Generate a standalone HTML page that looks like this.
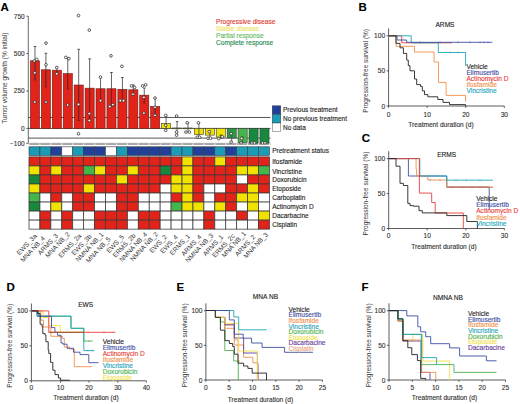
<!DOCTYPE html>
<html><head><meta charset="utf-8"><style>
html,body{margin:0;padding:0;background:#fff;width:520px;height:404px;overflow:hidden}
svg{display:block}
text{font-family:"Liberation Sans", sans-serif}
</style></head><body>
<svg width="520" height="404" viewBox="0 0 520 404">
<text x="0.60" y="10.50" font-size="11.5" fill="#000" stroke="#000" stroke-width="0.12" text-anchor="start" font-weight="bold" >A</text>
<text x="0" y="0" font-size="6.5" fill="#333" text-anchor="middle" transform="translate(7.2,78.1) rotate(-90)">Tumor volume growth (% initial)</text>
<line x1="28.30" y1="16.20" x2="28.30" y2="143.36" stroke="#444" stroke-width="0.8"/>
<line x1="26.30" y1="16.20" x2="28.30" y2="16.20" stroke="#444" stroke-width="0.8"/>
<text x="24.70" y="18.50" font-size="6.5" fill="#333" stroke="#333" stroke-width="0.12" text-anchor="end" font-weight="normal" >750</text>
<line x1="26.30" y1="53.60" x2="28.30" y2="53.60" stroke="#444" stroke-width="0.8"/>
<text x="24.70" y="55.90" font-size="6.5" fill="#333" stroke="#333" stroke-width="0.12" text-anchor="end" font-weight="normal" >500</text>
<line x1="26.30" y1="91.00" x2="28.30" y2="91.00" stroke="#444" stroke-width="0.8"/>
<text x="24.70" y="93.30" font-size="6.5" fill="#333" stroke="#333" stroke-width="0.12" text-anchor="end" font-weight="normal" >250</text>
<line x1="26.30" y1="128.40" x2="28.30" y2="128.40" stroke="#444" stroke-width="0.8"/>
<text x="24.70" y="130.70" font-size="6.5" fill="#333" stroke="#333" stroke-width="0.12" text-anchor="end" font-weight="normal" >0</text>
<line x1="26.30" y1="143.36" x2="28.30" y2="143.36" stroke="#444" stroke-width="0.8"/>
<text x="24.70" y="145.66" font-size="6.5" fill="#333" stroke="#333" stroke-width="0.12" text-anchor="end" font-weight="normal" >−100</text>
<line x1="28.30" y1="117.48" x2="270.50" y2="117.48" stroke="#2a2a2a" stroke-width="0.8"/>
<line x1="28.30" y1="128.40" x2="270.50" y2="128.40" stroke="#2a2a2a" stroke-width="0.8"/>
<line x1="28.30" y1="138.12" x2="270.50" y2="138.12" stroke="#2a2a2a" stroke-width="0.8"/>
<rect x="30.42" y="60.78" width="9.10" height="67.62" fill="#e2231a" stroke="#6a1812" stroke-width="0.6"/>
<rect x="41.34" y="69.76" width="9.10" height="58.64" fill="#e2231a" stroke="#6a1812" stroke-width="0.6"/>
<rect x="52.28" y="70.21" width="9.10" height="58.19" fill="#e2231a" stroke="#6a1812" stroke-width="0.6"/>
<rect x="63.20" y="73.65" width="9.10" height="54.75" fill="#e2231a" stroke="#6a1812" stroke-width="0.6"/>
<rect x="74.14" y="85.02" width="9.10" height="43.38" fill="#e2231a" stroke="#6a1812" stroke-width="0.6"/>
<rect x="85.06" y="88.16" width="9.10" height="40.24" fill="#e2231a" stroke="#6a1812" stroke-width="0.6"/>
<rect x="96.00" y="88.76" width="9.10" height="39.64" fill="#e2231a" stroke="#6a1812" stroke-width="0.6"/>
<rect x="106.92" y="88.76" width="9.10" height="39.64" fill="#e2231a" stroke="#6a1812" stroke-width="0.6"/>
<rect x="117.86" y="89.35" width="9.10" height="39.05" fill="#e2231a" stroke="#6a1812" stroke-width="0.6"/>
<rect x="128.78" y="89.80" width="9.10" height="38.60" fill="#e2231a" stroke="#6a1812" stroke-width="0.6"/>
<rect x="139.71" y="95.19" width="9.10" height="33.21" fill="#e2231a" stroke="#6a1812" stroke-width="0.6"/>
<rect x="150.64" y="106.41" width="9.10" height="21.99" fill="#e2231a" stroke="#6a1812" stroke-width="0.6"/>
<rect x="161.57" y="123.31" width="9.10" height="5.09" fill="#f2e200" stroke="#3a3a3a" stroke-width="0.6"/>
<rect x="172.50" y="128.00" width="9.10" height="0.80" fill="#f2e200" stroke="#3a3a3a" stroke-width="0.6"/>
<rect x="183.43" y="128.00" width="9.10" height="0.80" fill="#f2e200" stroke="#3a3a3a" stroke-width="0.6"/>
<rect x="194.36" y="128.40" width="9.10" height="6.28" fill="#f2e200" stroke="#3a3a3a" stroke-width="0.6"/>
<rect x="205.29" y="128.40" width="9.10" height="6.73" fill="#f2e200" stroke="#3a3a3a" stroke-width="0.6"/>
<rect x="216.22" y="128.40" width="9.10" height="8.68" fill="#f2e200" stroke="#3a3a3a" stroke-width="0.6"/>
<rect x="227.15" y="128.40" width="9.10" height="9.57" fill="#2b9a45" stroke="#3a3a3a" stroke-width="0.6"/>
<rect x="238.08" y="128.40" width="9.10" height="14.21" fill="#45b649" stroke="#3a3a3a" stroke-width="0.6"/>
<rect x="249.01" y="128.40" width="9.10" height="14.96" fill="#16893d" stroke="#3a3a3a" stroke-width="0.6"/>
<rect x="259.94" y="128.40" width="9.10" height="14.96" fill="#16893d" stroke="#3a3a3a" stroke-width="0.6"/>
<line x1="28.30" y1="143.36" x2="270.50" y2="143.36" stroke="#555" stroke-width="0.5"/>
<line x1="34.97" y1="46.50" x2="34.97" y2="80.00" stroke="#4a4a4a" stroke-width="0.85"/>
<line x1="34.97" y1="60.78" x2="34.97" y2="80.00" stroke="#7a1a14" stroke-width="0.85"/>
<line x1="33.67" y1="46.50" x2="36.27" y2="46.50" stroke="#3a3a3a" stroke-width="0.85"/>
<line x1="33.67" y1="80.00" x2="36.27" y2="80.00" stroke="#7a1a14" stroke-width="0.85"/>
<line x1="45.89" y1="53.30" x2="45.89" y2="86.80" stroke="#4a4a4a" stroke-width="0.85"/>
<line x1="45.89" y1="69.76" x2="45.89" y2="86.80" stroke="#7a1a14" stroke-width="0.85"/>
<line x1="44.59" y1="53.30" x2="47.19" y2="53.30" stroke="#3a3a3a" stroke-width="0.85"/>
<line x1="44.59" y1="86.80" x2="47.19" y2="86.80" stroke="#7a1a14" stroke-width="0.85"/>
<line x1="56.83" y1="67.00" x2="56.83" y2="74.00" stroke="#4a4a4a" stroke-width="0.85"/>
<line x1="56.83" y1="70.21" x2="56.83" y2="74.00" stroke="#7a1a14" stroke-width="0.85"/>
<line x1="55.53" y1="67.00" x2="58.12" y2="67.00" stroke="#3a3a3a" stroke-width="0.85"/>
<line x1="55.53" y1="74.00" x2="58.12" y2="74.00" stroke="#7a1a14" stroke-width="0.85"/>
<line x1="67.75" y1="58.00" x2="67.75" y2="89.00" stroke="#4a4a4a" stroke-width="0.85"/>
<line x1="67.75" y1="73.65" x2="67.75" y2="89.00" stroke="#7a1a14" stroke-width="0.85"/>
<line x1="66.45" y1="58.00" x2="69.05" y2="58.00" stroke="#3a3a3a" stroke-width="0.85"/>
<line x1="66.45" y1="89.00" x2="69.05" y2="89.00" stroke="#7a1a14" stroke-width="0.85"/>
<line x1="78.69" y1="49.30" x2="78.69" y2="120.50" stroke="#4a4a4a" stroke-width="0.85"/>
<line x1="78.69" y1="85.02" x2="78.69" y2="120.50" stroke="#7a1a14" stroke-width="0.85"/>
<line x1="77.39" y1="49.30" x2="79.98" y2="49.30" stroke="#3a3a3a" stroke-width="0.85"/>
<line x1="77.39" y1="120.50" x2="79.98" y2="120.50" stroke="#7a1a14" stroke-width="0.85"/>
<line x1="89.61" y1="58.90" x2="89.61" y2="118.00" stroke="#4a4a4a" stroke-width="0.85"/>
<line x1="89.61" y1="88.16" x2="89.61" y2="118.00" stroke="#7a1a14" stroke-width="0.85"/>
<line x1="88.31" y1="58.90" x2="90.91" y2="58.90" stroke="#3a3a3a" stroke-width="0.85"/>
<line x1="88.31" y1="118.00" x2="90.91" y2="118.00" stroke="#7a1a14" stroke-width="0.85"/>
<line x1="100.55" y1="76.60" x2="100.55" y2="101.00" stroke="#4a4a4a" stroke-width="0.85"/>
<line x1="100.55" y1="88.76" x2="100.55" y2="101.00" stroke="#7a1a14" stroke-width="0.85"/>
<line x1="99.25" y1="76.60" x2="101.84" y2="76.60" stroke="#3a3a3a" stroke-width="0.85"/>
<line x1="99.25" y1="101.00" x2="101.84" y2="101.00" stroke="#7a1a14" stroke-width="0.85"/>
<line x1="111.47" y1="72.50" x2="111.47" y2="106.00" stroke="#4a4a4a" stroke-width="0.85"/>
<line x1="111.47" y1="88.76" x2="111.47" y2="106.00" stroke="#7a1a14" stroke-width="0.85"/>
<line x1="110.17" y1="72.50" x2="112.77" y2="72.50" stroke="#3a3a3a" stroke-width="0.85"/>
<line x1="110.17" y1="106.00" x2="112.77" y2="106.00" stroke="#7a1a14" stroke-width="0.85"/>
<line x1="122.41" y1="77.50" x2="122.41" y2="101.00" stroke="#4a4a4a" stroke-width="0.85"/>
<line x1="122.41" y1="89.35" x2="122.41" y2="101.00" stroke="#7a1a14" stroke-width="0.85"/>
<line x1="121.11" y1="77.50" x2="123.70" y2="77.50" stroke="#3a3a3a" stroke-width="0.85"/>
<line x1="121.11" y1="101.00" x2="123.70" y2="101.00" stroke="#7a1a14" stroke-width="0.85"/>
<line x1="133.33" y1="85.00" x2="133.33" y2="95.00" stroke="#4a4a4a" stroke-width="0.85"/>
<line x1="133.33" y1="89.80" x2="133.33" y2="95.00" stroke="#7a1a14" stroke-width="0.85"/>
<line x1="132.03" y1="85.00" x2="134.63" y2="85.00" stroke="#3a3a3a" stroke-width="0.85"/>
<line x1="132.03" y1="95.00" x2="134.63" y2="95.00" stroke="#7a1a14" stroke-width="0.85"/>
<line x1="144.26" y1="88.00" x2="144.26" y2="103.00" stroke="#4a4a4a" stroke-width="0.85"/>
<line x1="144.26" y1="95.19" x2="144.26" y2="103.00" stroke="#7a1a14" stroke-width="0.85"/>
<line x1="142.96" y1="88.00" x2="145.56" y2="88.00" stroke="#3a3a3a" stroke-width="0.85"/>
<line x1="142.96" y1="103.00" x2="145.56" y2="103.00" stroke="#7a1a14" stroke-width="0.85"/>
<line x1="155.19" y1="98.00" x2="155.19" y2="115.00" stroke="#4a4a4a" stroke-width="0.85"/>
<line x1="155.19" y1="106.41" x2="155.19" y2="115.00" stroke="#7a1a14" stroke-width="0.85"/>
<line x1="153.89" y1="98.00" x2="156.50" y2="98.00" stroke="#3a3a3a" stroke-width="0.85"/>
<line x1="153.89" y1="115.00" x2="156.50" y2="115.00" stroke="#7a1a14" stroke-width="0.85"/>
<line x1="166.12" y1="116.00" x2="166.12" y2="131.00" stroke="#4a4a4a" stroke-width="0.85"/>
<line x1="164.82" y1="116.00" x2="167.43" y2="116.00" stroke="#3a3a3a" stroke-width="0.85"/>
<line x1="177.06" y1="121.60" x2="177.06" y2="135.80" stroke="#4a4a4a" stroke-width="0.85"/>
<line x1="175.75" y1="121.60" x2="178.36" y2="121.60" stroke="#3a3a3a" stroke-width="0.85"/>
<line x1="187.98" y1="122.80" x2="187.98" y2="132.50" stroke="#4a4a4a" stroke-width="0.85"/>
<line x1="186.68" y1="122.80" x2="189.28" y2="122.80" stroke="#3a3a3a" stroke-width="0.85"/>
<line x1="198.91" y1="123.00" x2="198.91" y2="137.00" stroke="#4a4a4a" stroke-width="0.85"/>
<line x1="197.61" y1="123.00" x2="200.22" y2="123.00" stroke="#3a3a3a" stroke-width="0.85"/>
<line x1="209.84" y1="131.00" x2="209.84" y2="138.00" stroke="#4a4a4a" stroke-width="0.85"/>
<line x1="208.54" y1="131.00" x2="211.15" y2="131.00" stroke="#3a3a3a" stroke-width="0.85"/>
<line x1="220.78" y1="135.00" x2="220.78" y2="139.00" stroke="#4a4a4a" stroke-width="0.85"/>
<line x1="219.47" y1="135.00" x2="222.08" y2="135.00" stroke="#3a3a3a" stroke-width="0.85"/>
<line x1="231.70" y1="133.00" x2="231.70" y2="142.00" stroke="#4a4a4a" stroke-width="0.85"/>
<line x1="230.40" y1="133.00" x2="233.00" y2="133.00" stroke="#3a3a3a" stroke-width="0.85"/>
<line x1="242.63" y1="137.00" x2="242.63" y2="143.00" stroke="#4a4a4a" stroke-width="0.85"/>
<line x1="241.33" y1="137.00" x2="243.94" y2="137.00" stroke="#3a3a3a" stroke-width="0.85"/>
<line x1="253.56" y1="142.00" x2="253.56" y2="143.00" stroke="#4a4a4a" stroke-width="0.85"/>
<line x1="252.26" y1="142.00" x2="254.87" y2="142.00" stroke="#3a3a3a" stroke-width="0.85"/>
<line x1="264.50" y1="142.00" x2="264.50" y2="143.00" stroke="#4a4a4a" stroke-width="0.85"/>
<line x1="263.19" y1="142.00" x2="265.80" y2="142.00" stroke="#3a3a3a" stroke-width="0.85"/>
<circle cx="34.20" cy="61.00" r="1.35" fill="#fff" stroke="#2a2a2a" stroke-width="0.75"/>
<circle cx="36.70" cy="59.50" r="1.35" fill="#fff" stroke="#2a2a2a" stroke-width="0.75"/>
<circle cx="34.80" cy="72.80" r="1.35" fill="#fff" stroke="#2a2a2a" stroke-width="0.75"/>
<circle cx="34.80" cy="102.00" r="1.35" fill="#fff" stroke="#2a2a2a" stroke-width="0.75"/>
<circle cx="46.00" cy="43.10" r="1.35" fill="#fff" stroke="#2a2a2a" stroke-width="0.75"/>
<circle cx="46.00" cy="64.80" r="1.35" fill="#fff" stroke="#2a2a2a" stroke-width="0.75"/>
<circle cx="46.00" cy="102.00" r="1.35" fill="#fff" stroke="#2a2a2a" stroke-width="0.75"/>
<circle cx="56.80" cy="67.60" r="1.35" fill="#fff" stroke="#2a2a2a" stroke-width="0.75"/>
<circle cx="56.80" cy="73.80" r="1.35" fill="#fff" stroke="#2a2a2a" stroke-width="0.75"/>
<circle cx="65.80" cy="57.40" r="1.35" fill="#fff" stroke="#2a2a2a" stroke-width="0.75"/>
<circle cx="68.90" cy="58.60" r="1.35" fill="#fff" stroke="#2a2a2a" stroke-width="0.75"/>
<circle cx="67.60" cy="105.00" r="1.35" fill="#fff" stroke="#2a2a2a" stroke-width="0.75"/>
<circle cx="78.50" cy="15.60" r="1.35" fill="#fff" stroke="#2a2a2a" stroke-width="0.75"/>
<circle cx="78.50" cy="104.40" r="1.35" fill="#fff" stroke="#2a2a2a" stroke-width="0.75"/>
<circle cx="78.50" cy="133.80" r="1.35" fill="#fff" stroke="#2a2a2a" stroke-width="0.75"/>
<circle cx="89.30" cy="30.10" r="1.35" fill="#fff" stroke="#2a2a2a" stroke-width="0.75"/>
<circle cx="89.30" cy="113.70" r="1.35" fill="#fff" stroke="#2a2a2a" stroke-width="0.75"/>
<circle cx="89.30" cy="120.50" r="1.35" fill="#fff" stroke="#2a2a2a" stroke-width="0.75"/>
<circle cx="100.50" cy="77.20" r="1.35" fill="#fff" stroke="#2a2a2a" stroke-width="0.75"/>
<circle cx="100.50" cy="100.70" r="1.35" fill="#fff" stroke="#2a2a2a" stroke-width="0.75"/>
<circle cx="111.00" cy="55.80" r="1.35" fill="#fff" stroke="#2a2a2a" stroke-width="0.75"/>
<circle cx="109.80" cy="106.60" r="1.35" fill="#fff" stroke="#2a2a2a" stroke-width="0.75"/>
<circle cx="112.90" cy="104.70" r="1.35" fill="#fff" stroke="#2a2a2a" stroke-width="0.75"/>
<circle cx="121.90" cy="66.30" r="1.35" fill="#fff" stroke="#2a2a2a" stroke-width="0.75"/>
<circle cx="120.30" cy="100.70" r="1.35" fill="#fff" stroke="#2a2a2a" stroke-width="0.75"/>
<circle cx="123.40" cy="100.70" r="1.35" fill="#fff" stroke="#2a2a2a" stroke-width="0.75"/>
<circle cx="131.50" cy="85.90" r="1.35" fill="#fff" stroke="#2a2a2a" stroke-width="0.75"/>
<circle cx="134.60" cy="87.40" r="1.35" fill="#fff" stroke="#2a2a2a" stroke-width="0.75"/>
<circle cx="133.00" cy="94.20" r="1.35" fill="#fff" stroke="#2a2a2a" stroke-width="0.75"/>
<circle cx="142.60" cy="85.90" r="1.35" fill="#fff" stroke="#2a2a2a" stroke-width="0.75"/>
<circle cx="145.70" cy="84.90" r="1.35" fill="#fff" stroke="#2a2a2a" stroke-width="0.75"/>
<circle cx="143.90" cy="97.30" r="1.35" fill="#fff" stroke="#2a2a2a" stroke-width="0.75"/>
<circle cx="143.90" cy="113.10" r="1.35" fill="#fff" stroke="#2a2a2a" stroke-width="0.75"/>
<circle cx="155.00" cy="98.10" r="1.35" fill="#fff" stroke="#2a2a2a" stroke-width="0.75"/>
<circle cx="155.00" cy="107.30" r="1.35" fill="#fff" stroke="#2a2a2a" stroke-width="0.75"/>
<circle cx="155.00" cy="115.30" r="1.35" fill="#fff" stroke="#2a2a2a" stroke-width="0.75"/>
<circle cx="165.70" cy="115.40" r="1.35" fill="#fff" stroke="#2a2a2a" stroke-width="0.75"/>
<circle cx="165.70" cy="125.30" r="1.35" fill="#fff" stroke="#2a2a2a" stroke-width="0.75"/>
<circle cx="165.70" cy="130.30" r="1.35" fill="#fff" stroke="#2a2a2a" stroke-width="0.75"/>
<circle cx="176.60" cy="116.00" r="1.35" fill="#fff" stroke="#2a2a2a" stroke-width="0.75"/>
<circle cx="176.60" cy="132.10" r="1.35" fill="#fff" stroke="#2a2a2a" stroke-width="0.75"/>
<circle cx="176.60" cy="135.20" r="1.35" fill="#fff" stroke="#2a2a2a" stroke-width="0.75"/>
<circle cx="187.10" cy="122.80" r="1.35" fill="#fff" stroke="#2a2a2a" stroke-width="0.75"/>
<circle cx="185.90" cy="132.10" r="1.35" fill="#fff" stroke="#2a2a2a" stroke-width="0.75"/>
<circle cx="189.40" cy="132.10" r="1.35" fill="#fff" stroke="#2a2a2a" stroke-width="0.75"/>
<circle cx="198.40" cy="122.80" r="1.35" fill="#fff" stroke="#2a2a2a" stroke-width="0.75"/>
<circle cx="197.20" cy="137.20" r="1.35" fill="#fff" stroke="#2a2a2a" stroke-width="0.75"/>
<circle cx="199.60" cy="137.20" r="1.35" fill="#fff" stroke="#2a2a2a" stroke-width="0.75"/>
<circle cx="209.30" cy="131.70" r="1.35" fill="#fff" stroke="#2a2a2a" stroke-width="0.75"/>
<circle cx="208.00" cy="138.20" r="1.35" fill="#fff" stroke="#2a2a2a" stroke-width="0.75"/>
<circle cx="210.60" cy="138.20" r="1.35" fill="#fff" stroke="#2a2a2a" stroke-width="0.75"/>
<circle cx="222.20" cy="136.70" r="1.35" fill="#fff" stroke="#2a2a2a" stroke-width="0.75"/>
<circle cx="218.70" cy="138.70" r="1.35" fill="#fff" stroke="#2a2a2a" stroke-width="0.75"/>
<circle cx="231.10" cy="133.70" r="1.35" fill="#fff" stroke="#2a2a2a" stroke-width="0.75"/>
<circle cx="231.10" cy="142.10" r="1.35" fill="#fff" stroke="#2a2a2a" stroke-width="0.75"/>
<circle cx="241.70" cy="138.40" r="1.35" fill="#fff" stroke="#2a2a2a" stroke-width="0.75"/>
<circle cx="241.00" cy="142.90" r="1.35" fill="#fff" stroke="#2a2a2a" stroke-width="0.75"/>
<circle cx="252.00" cy="142.90" r="1.35" fill="#fff" stroke="#2a2a2a" stroke-width="0.75"/>
<circle cx="254.50" cy="142.90" r="1.35" fill="#fff" stroke="#2a2a2a" stroke-width="0.75"/>
<circle cx="262.50" cy="142.90" r="1.35" fill="#fff" stroke="#2a2a2a" stroke-width="0.75"/>
<circle cx="265.00" cy="142.90" r="1.35" fill="#fff" stroke="#2a2a2a" stroke-width="0.75"/>
<line x1="28.30" y1="144.20" x2="270.50" y2="144.20" stroke="#8a8a8a" stroke-width="1.1"/>
<line x1="29.00" y1="143.40" x2="29.00" y2="145.20" stroke="#fff" stroke-width="0.9"/>
<line x1="39.93" y1="143.40" x2="39.93" y2="145.20" stroke="#fff" stroke-width="0.9"/>
<line x1="50.86" y1="143.40" x2="50.86" y2="145.20" stroke="#fff" stroke-width="0.9"/>
<line x1="61.79" y1="143.40" x2="61.79" y2="145.20" stroke="#fff" stroke-width="0.9"/>
<line x1="72.72" y1="143.40" x2="72.72" y2="145.20" stroke="#fff" stroke-width="0.9"/>
<line x1="83.65" y1="143.40" x2="83.65" y2="145.20" stroke="#fff" stroke-width="0.9"/>
<line x1="94.58" y1="143.40" x2="94.58" y2="145.20" stroke="#fff" stroke-width="0.9"/>
<line x1="105.51" y1="143.40" x2="105.51" y2="145.20" stroke="#fff" stroke-width="0.9"/>
<line x1="116.44" y1="143.40" x2="116.44" y2="145.20" stroke="#fff" stroke-width="0.9"/>
<line x1="127.37" y1="143.40" x2="127.37" y2="145.20" stroke="#fff" stroke-width="0.9"/>
<line x1="138.30" y1="143.40" x2="138.30" y2="145.20" stroke="#fff" stroke-width="0.9"/>
<line x1="149.23" y1="143.40" x2="149.23" y2="145.20" stroke="#fff" stroke-width="0.9"/>
<line x1="160.16" y1="143.40" x2="160.16" y2="145.20" stroke="#fff" stroke-width="0.9"/>
<line x1="171.09" y1="143.40" x2="171.09" y2="145.20" stroke="#fff" stroke-width="0.9"/>
<line x1="182.02" y1="143.40" x2="182.02" y2="145.20" stroke="#fff" stroke-width="0.9"/>
<line x1="192.95" y1="143.40" x2="192.95" y2="145.20" stroke="#fff" stroke-width="0.9"/>
<line x1="203.88" y1="143.40" x2="203.88" y2="145.20" stroke="#fff" stroke-width="0.9"/>
<line x1="214.81" y1="143.40" x2="214.81" y2="145.20" stroke="#fff" stroke-width="0.9"/>
<line x1="225.74" y1="143.40" x2="225.74" y2="145.20" stroke="#fff" stroke-width="0.9"/>
<line x1="236.67" y1="143.40" x2="236.67" y2="145.20" stroke="#fff" stroke-width="0.9"/>
<line x1="247.60" y1="143.40" x2="247.60" y2="145.20" stroke="#fff" stroke-width="0.9"/>
<line x1="258.53" y1="143.40" x2="258.53" y2="145.20" stroke="#fff" stroke-width="0.9"/>
<line x1="269.46" y1="143.40" x2="269.46" y2="145.20" stroke="#fff" stroke-width="0.9"/>
<text x="216.00" y="24.00" font-size="6.6" fill="#de3a30" stroke="#de3a30" stroke-width="0.12" text-anchor="start" font-weight="normal" >Progressive disease</text>
<text x="216.00" y="31.00" font-size="6.6" fill="#efe35a" stroke="#efe35a" stroke-width="0.12" text-anchor="start" font-weight="normal" >Stable disease</text>
<text x="216.00" y="38.20" font-size="6.6" fill="#66b966" stroke="#66b966" stroke-width="0.12" text-anchor="start" font-weight="normal" >Partial response</text>
<text x="216.00" y="45.00" font-size="6.6" fill="#238a50" stroke="#238a50" stroke-width="0.12" text-anchor="start" font-weight="normal" >Complete response</text>
<rect x="272.20" y="105.80" width="8.60" height="8.60" fill="#21409a" stroke="#333" stroke-width="0.4"/>
<rect x="272.20" y="114.40" width="8.60" height="8.60" fill="#1b9bb6" stroke="#333" stroke-width="0.4"/>
<rect x="272.20" y="123.00" width="8.60" height="8.60" fill="#fff" stroke="#333" stroke-width="0.4"/>
<text x="283.00" y="112.30" font-size="6.5" fill="#222" stroke="#222" stroke-width="0.12" text-anchor="start" font-weight="normal" >Previous treatment</text>
<text x="283.00" y="121.00" font-size="6.5" fill="#222" stroke="#222" stroke-width="0.12" text-anchor="start" font-weight="normal" >No previous treatment</text>
<text x="283.00" y="129.60" font-size="6.5" fill="#222" stroke="#222" stroke-width="0.12" text-anchor="start" font-weight="normal" >No data</text>
<rect x="29.00" y="146.80" width="10.93" height="8.70" fill="#1b9bb6" stroke="#3a3a3a" stroke-width="0.6"/>
<rect x="39.93" y="146.80" width="10.93" height="8.70" fill="#1b9bb6" stroke="#3a3a3a" stroke-width="0.6"/>
<rect x="50.86" y="146.80" width="10.93" height="8.70" fill="#21409a" stroke="#3a3a3a" stroke-width="0.6"/>
<rect x="61.79" y="146.80" width="10.93" height="8.70" fill="#fff" stroke="#3a3a3a" stroke-width="0.6"/>
<rect x="72.72" y="146.80" width="10.93" height="8.70" fill="#1b9bb6" stroke="#3a3a3a" stroke-width="0.6"/>
<rect x="83.65" y="146.80" width="10.93" height="8.70" fill="#21409a" stroke="#3a3a3a" stroke-width="0.6"/>
<rect x="94.58" y="146.80" width="10.93" height="8.70" fill="#21409a" stroke="#3a3a3a" stroke-width="0.6"/>
<rect x="105.51" y="146.80" width="10.93" height="8.70" fill="#fff" stroke="#3a3a3a" stroke-width="0.6"/>
<rect x="116.44" y="146.80" width="10.93" height="8.70" fill="#1b9bb6" stroke="#3a3a3a" stroke-width="0.6"/>
<rect x="127.37" y="146.80" width="10.93" height="8.70" fill="#21409a" stroke="#3a3a3a" stroke-width="0.6"/>
<rect x="138.30" y="146.80" width="10.93" height="8.70" fill="#21409a" stroke="#3a3a3a" stroke-width="0.6"/>
<rect x="149.23" y="146.80" width="10.93" height="8.70" fill="#21409a" stroke="#3a3a3a" stroke-width="0.6"/>
<rect x="160.16" y="146.80" width="10.93" height="8.70" fill="#21409a" stroke="#3a3a3a" stroke-width="0.6"/>
<rect x="171.09" y="146.80" width="10.93" height="8.70" fill="#1b9bb6" stroke="#3a3a3a" stroke-width="0.6"/>
<rect x="182.02" y="146.80" width="10.93" height="8.70" fill="#1b9bb6" stroke="#3a3a3a" stroke-width="0.6"/>
<rect x="192.95" y="146.80" width="10.93" height="8.70" fill="#21409a" stroke="#3a3a3a" stroke-width="0.6"/>
<rect x="203.88" y="146.80" width="10.93" height="8.70" fill="#21409a" stroke="#3a3a3a" stroke-width="0.6"/>
<rect x="214.81" y="146.80" width="10.93" height="8.70" fill="#1b9bb6" stroke="#3a3a3a" stroke-width="0.6"/>
<rect x="225.74" y="146.80" width="10.93" height="8.70" fill="#21409a" stroke="#3a3a3a" stroke-width="0.6"/>
<rect x="236.67" y="146.80" width="10.93" height="8.70" fill="#1b9bb6" stroke="#3a3a3a" stroke-width="0.6"/>
<rect x="247.60" y="146.80" width="10.93" height="8.70" fill="#1b9bb6" stroke="#3a3a3a" stroke-width="0.6"/>
<rect x="258.53" y="146.80" width="10.93" height="8.70" fill="#1b9bb6" stroke="#3a3a3a" stroke-width="0.6"/>
<rect x="29.00" y="156.90" width="10.93" height="9.03" fill="#e2231a" stroke="#3a3a3a" stroke-width="0.75"/>
<rect x="29.00" y="165.93" width="10.93" height="9.03" fill="#f2e200" stroke="#3a3a3a" stroke-width="0.75"/>
<rect x="29.00" y="174.96" width="10.93" height="9.03" fill="#16893d" stroke="#3a3a3a" stroke-width="0.75"/>
<rect x="29.00" y="183.99" width="10.93" height="9.03" fill="#f2e200" stroke="#3a3a3a" stroke-width="0.75"/>
<rect x="29.00" y="193.02" width="10.93" height="9.03" fill="#45b649" stroke="#3a3a3a" stroke-width="0.75"/>
<rect x="29.00" y="202.05" width="10.93" height="9.03" fill="#16893d" stroke="#3a3a3a" stroke-width="0.75"/>
<rect x="29.00" y="211.08" width="10.93" height="9.03" fill="#fff" stroke="#3a3a3a" stroke-width="0.75"/>
<rect x="29.00" y="220.11" width="10.93" height="9.03" fill="#fff" stroke="#3a3a3a" stroke-width="0.75"/>
<rect x="39.93" y="156.90" width="10.93" height="9.03" fill="#e2231a" stroke="#3a3a3a" stroke-width="0.75"/>
<rect x="39.93" y="165.93" width="10.93" height="9.03" fill="#e2231a" stroke="#3a3a3a" stroke-width="0.75"/>
<rect x="39.93" y="174.96" width="10.93" height="9.03" fill="#e2231a" stroke="#3a3a3a" stroke-width="0.75"/>
<rect x="39.93" y="183.99" width="10.93" height="9.03" fill="#e2231a" stroke="#3a3a3a" stroke-width="0.75"/>
<rect x="39.93" y="193.02" width="10.93" height="9.03" fill="#fff" stroke="#3a3a3a" stroke-width="0.75"/>
<rect x="39.93" y="202.05" width="10.93" height="9.03" fill="#fff" stroke="#3a3a3a" stroke-width="0.75"/>
<rect x="39.93" y="211.08" width="10.93" height="9.03" fill="#e2231a" stroke="#3a3a3a" stroke-width="0.75"/>
<rect x="39.93" y="220.11" width="10.93" height="9.03" fill="#e2231a" stroke="#3a3a3a" stroke-width="0.75"/>
<rect x="50.86" y="156.90" width="10.93" height="9.03" fill="#e2231a" stroke="#3a3a3a" stroke-width="0.75"/>
<rect x="50.86" y="165.93" width="10.93" height="9.03" fill="#f2e200" stroke="#3a3a3a" stroke-width="0.75"/>
<rect x="50.86" y="174.96" width="10.93" height="9.03" fill="#e2231a" stroke="#3a3a3a" stroke-width="0.75"/>
<rect x="50.86" y="183.99" width="10.93" height="9.03" fill="#e2231a" stroke="#3a3a3a" stroke-width="0.75"/>
<rect x="50.86" y="193.02" width="10.93" height="9.03" fill="#e2231a" stroke="#3a3a3a" stroke-width="0.75"/>
<rect x="50.86" y="202.05" width="10.93" height="9.03" fill="#f2e200" stroke="#3a3a3a" stroke-width="0.75"/>
<rect x="50.86" y="211.08" width="10.93" height="9.03" fill="#fff" stroke="#3a3a3a" stroke-width="0.75"/>
<rect x="50.86" y="220.11" width="10.93" height="9.03" fill="#fff" stroke="#3a3a3a" stroke-width="0.75"/>
<rect x="61.79" y="156.90" width="10.93" height="9.03" fill="#e2231a" stroke="#3a3a3a" stroke-width="0.75"/>
<rect x="61.79" y="165.93" width="10.93" height="9.03" fill="#e2231a" stroke="#3a3a3a" stroke-width="0.75"/>
<rect x="61.79" y="174.96" width="10.93" height="9.03" fill="#e2231a" stroke="#3a3a3a" stroke-width="0.75"/>
<rect x="61.79" y="183.99" width="10.93" height="9.03" fill="#e2231a" stroke="#3a3a3a" stroke-width="0.75"/>
<rect x="61.79" y="193.02" width="10.93" height="9.03" fill="#fff" stroke="#3a3a3a" stroke-width="0.75"/>
<rect x="61.79" y="202.05" width="10.93" height="9.03" fill="#fff" stroke="#3a3a3a" stroke-width="0.75"/>
<rect x="61.79" y="211.08" width="10.93" height="9.03" fill="#e2231a" stroke="#3a3a3a" stroke-width="0.75"/>
<rect x="61.79" y="220.11" width="10.93" height="9.03" fill="#e2231a" stroke="#3a3a3a" stroke-width="0.75"/>
<rect x="72.72" y="156.90" width="10.93" height="9.03" fill="#e2231a" stroke="#3a3a3a" stroke-width="0.75"/>
<rect x="72.72" y="165.93" width="10.93" height="9.03" fill="#e2231a" stroke="#3a3a3a" stroke-width="0.75"/>
<rect x="72.72" y="174.96" width="10.93" height="9.03" fill="#e2231a" stroke="#3a3a3a" stroke-width="0.75"/>
<rect x="72.72" y="183.99" width="10.93" height="9.03" fill="#e2231a" stroke="#3a3a3a" stroke-width="0.75"/>
<rect x="72.72" y="193.02" width="10.93" height="9.03" fill="#e2231a" stroke="#3a3a3a" stroke-width="0.75"/>
<rect x="72.72" y="202.05" width="10.93" height="9.03" fill="#e2231a" stroke="#3a3a3a" stroke-width="0.75"/>
<rect x="72.72" y="211.08" width="10.93" height="9.03" fill="#fff" stroke="#3a3a3a" stroke-width="0.75"/>
<rect x="72.72" y="220.11" width="10.93" height="9.03" fill="#fff" stroke="#3a3a3a" stroke-width="0.75"/>
<rect x="83.65" y="156.90" width="10.93" height="9.03" fill="#e2231a" stroke="#3a3a3a" stroke-width="0.75"/>
<rect x="83.65" y="165.93" width="10.93" height="9.03" fill="#45b649" stroke="#3a3a3a" stroke-width="0.75"/>
<rect x="83.65" y="174.96" width="10.93" height="9.03" fill="#e2231a" stroke="#3a3a3a" stroke-width="0.75"/>
<rect x="83.65" y="183.99" width="10.93" height="9.03" fill="#f2e200" stroke="#3a3a3a" stroke-width="0.75"/>
<rect x="83.65" y="193.02" width="10.93" height="9.03" fill="#e2231a" stroke="#3a3a3a" stroke-width="0.75"/>
<rect x="83.65" y="202.05" width="10.93" height="9.03" fill="#e2231a" stroke="#3a3a3a" stroke-width="0.75"/>
<rect x="83.65" y="211.08" width="10.93" height="9.03" fill="#fff" stroke="#3a3a3a" stroke-width="0.75"/>
<rect x="83.65" y="220.11" width="10.93" height="9.03" fill="#fff" stroke="#3a3a3a" stroke-width="0.75"/>
<rect x="94.58" y="156.90" width="10.93" height="9.03" fill="#e2231a" stroke="#3a3a3a" stroke-width="0.75"/>
<rect x="94.58" y="165.93" width="10.93" height="9.03" fill="#f2e200" stroke="#3a3a3a" stroke-width="0.75"/>
<rect x="94.58" y="174.96" width="10.93" height="9.03" fill="#e2231a" stroke="#3a3a3a" stroke-width="0.75"/>
<rect x="94.58" y="183.99" width="10.93" height="9.03" fill="#e2231a" stroke="#3a3a3a" stroke-width="0.75"/>
<rect x="94.58" y="193.02" width="10.93" height="9.03" fill="#fff" stroke="#3a3a3a" stroke-width="0.75"/>
<rect x="94.58" y="202.05" width="10.93" height="9.03" fill="#fff" stroke="#3a3a3a" stroke-width="0.75"/>
<rect x="94.58" y="211.08" width="10.93" height="9.03" fill="#e2231a" stroke="#3a3a3a" stroke-width="0.75"/>
<rect x="94.58" y="220.11" width="10.93" height="9.03" fill="#e2231a" stroke="#3a3a3a" stroke-width="0.75"/>
<rect x="105.51" y="156.90" width="10.93" height="9.03" fill="#e2231a" stroke="#3a3a3a" stroke-width="0.75"/>
<rect x="105.51" y="165.93" width="10.93" height="9.03" fill="#e2231a" stroke="#3a3a3a" stroke-width="0.75"/>
<rect x="105.51" y="174.96" width="10.93" height="9.03" fill="#e2231a" stroke="#3a3a3a" stroke-width="0.75"/>
<rect x="105.51" y="183.99" width="10.93" height="9.03" fill="#e2231a" stroke="#3a3a3a" stroke-width="0.75"/>
<rect x="105.51" y="193.02" width="10.93" height="9.03" fill="#fff" stroke="#3a3a3a" stroke-width="0.75"/>
<rect x="105.51" y="202.05" width="10.93" height="9.03" fill="#fff" stroke="#3a3a3a" stroke-width="0.75"/>
<rect x="105.51" y="211.08" width="10.93" height="9.03" fill="#e2231a" stroke="#3a3a3a" stroke-width="0.75"/>
<rect x="105.51" y="220.11" width="10.93" height="9.03" fill="#e2231a" stroke="#3a3a3a" stroke-width="0.75"/>
<rect x="116.44" y="156.90" width="10.93" height="9.03" fill="#e2231a" stroke="#3a3a3a" stroke-width="0.75"/>
<rect x="116.44" y="165.93" width="10.93" height="9.03" fill="#e2231a" stroke="#3a3a3a" stroke-width="0.75"/>
<rect x="116.44" y="174.96" width="10.93" height="9.03" fill="#f2e200" stroke="#3a3a3a" stroke-width="0.75"/>
<rect x="116.44" y="183.99" width="10.93" height="9.03" fill="#e2231a" stroke="#3a3a3a" stroke-width="0.75"/>
<rect x="116.44" y="193.02" width="10.93" height="9.03" fill="#e2231a" stroke="#3a3a3a" stroke-width="0.75"/>
<rect x="116.44" y="202.05" width="10.93" height="9.03" fill="#e2231a" stroke="#3a3a3a" stroke-width="0.75"/>
<rect x="116.44" y="211.08" width="10.93" height="9.03" fill="#e2231a" stroke="#3a3a3a" stroke-width="0.75"/>
<rect x="116.44" y="220.11" width="10.93" height="9.03" fill="#e2231a" stroke="#3a3a3a" stroke-width="0.75"/>
<rect x="127.37" y="156.90" width="10.93" height="9.03" fill="#e2231a" stroke="#3a3a3a" stroke-width="0.75"/>
<rect x="127.37" y="165.93" width="10.93" height="9.03" fill="#f2e200" stroke="#3a3a3a" stroke-width="0.75"/>
<rect x="127.37" y="174.96" width="10.93" height="9.03" fill="#e2231a" stroke="#3a3a3a" stroke-width="0.75"/>
<rect x="127.37" y="183.99" width="10.93" height="9.03" fill="#e2231a" stroke="#3a3a3a" stroke-width="0.75"/>
<rect x="127.37" y="193.02" width="10.93" height="9.03" fill="#e2231a" stroke="#3a3a3a" stroke-width="0.75"/>
<rect x="127.37" y="202.05" width="10.93" height="9.03" fill="#e2231a" stroke="#3a3a3a" stroke-width="0.75"/>
<rect x="127.37" y="211.08" width="10.93" height="9.03" fill="#fff" stroke="#3a3a3a" stroke-width="0.75"/>
<rect x="127.37" y="220.11" width="10.93" height="9.03" fill="#fff" stroke="#3a3a3a" stroke-width="0.75"/>
<rect x="138.30" y="156.90" width="10.93" height="9.03" fill="#e2231a" stroke="#3a3a3a" stroke-width="0.75"/>
<rect x="138.30" y="165.93" width="10.93" height="9.03" fill="#e2231a" stroke="#3a3a3a" stroke-width="0.75"/>
<rect x="138.30" y="174.96" width="10.93" height="9.03" fill="#e2231a" stroke="#3a3a3a" stroke-width="0.75"/>
<rect x="138.30" y="183.99" width="10.93" height="9.03" fill="#e2231a" stroke="#3a3a3a" stroke-width="0.75"/>
<rect x="138.30" y="193.02" width="10.93" height="9.03" fill="#fff" stroke="#3a3a3a" stroke-width="0.75"/>
<rect x="138.30" y="202.05" width="10.93" height="9.03" fill="#fff" stroke="#3a3a3a" stroke-width="0.75"/>
<rect x="138.30" y="211.08" width="10.93" height="9.03" fill="#e2231a" stroke="#3a3a3a" stroke-width="0.75"/>
<rect x="138.30" y="220.11" width="10.93" height="9.03" fill="#e2231a" stroke="#3a3a3a" stroke-width="0.75"/>
<rect x="149.23" y="156.90" width="10.93" height="9.03" fill="#e2231a" stroke="#3a3a3a" stroke-width="0.75"/>
<rect x="149.23" y="165.93" width="10.93" height="9.03" fill="#e2231a" stroke="#3a3a3a" stroke-width="0.75"/>
<rect x="149.23" y="174.96" width="10.93" height="9.03" fill="#e2231a" stroke="#3a3a3a" stroke-width="0.75"/>
<rect x="149.23" y="183.99" width="10.93" height="9.03" fill="#e2231a" stroke="#3a3a3a" stroke-width="0.75"/>
<rect x="149.23" y="193.02" width="10.93" height="9.03" fill="#fff" stroke="#3a3a3a" stroke-width="0.75"/>
<rect x="149.23" y="202.05" width="10.93" height="9.03" fill="#fff" stroke="#3a3a3a" stroke-width="0.75"/>
<rect x="149.23" y="211.08" width="10.93" height="9.03" fill="#e2231a" stroke="#3a3a3a" stroke-width="0.75"/>
<rect x="149.23" y="220.11" width="10.93" height="9.03" fill="#e2231a" stroke="#3a3a3a" stroke-width="0.75"/>
<rect x="160.16" y="156.90" width="10.93" height="9.03" fill="#e2231a" stroke="#3a3a3a" stroke-width="0.75"/>
<rect x="160.16" y="165.93" width="10.93" height="9.03" fill="#16893d" stroke="#3a3a3a" stroke-width="0.75"/>
<rect x="160.16" y="174.96" width="10.93" height="9.03" fill="#e2231a" stroke="#3a3a3a" stroke-width="0.75"/>
<rect x="160.16" y="183.99" width="10.93" height="9.03" fill="#fff" stroke="#3a3a3a" stroke-width="0.75"/>
<rect x="160.16" y="193.02" width="10.93" height="9.03" fill="#fff" stroke="#3a3a3a" stroke-width="0.75"/>
<rect x="160.16" y="202.05" width="10.93" height="9.03" fill="#fff" stroke="#3a3a3a" stroke-width="0.75"/>
<rect x="160.16" y="211.08" width="10.93" height="9.03" fill="#fff" stroke="#3a3a3a" stroke-width="0.75"/>
<rect x="160.16" y="220.11" width="10.93" height="9.03" fill="#fff" stroke="#3a3a3a" stroke-width="0.75"/>
<rect x="171.09" y="156.90" width="10.93" height="9.03" fill="#e2231a" stroke="#3a3a3a" stroke-width="0.75"/>
<rect x="171.09" y="165.93" width="10.93" height="9.03" fill="#e2231a" stroke="#3a3a3a" stroke-width="0.75"/>
<rect x="171.09" y="174.96" width="10.93" height="9.03" fill="#f2e200" stroke="#3a3a3a" stroke-width="0.75"/>
<rect x="171.09" y="183.99" width="10.93" height="9.03" fill="#f2e200" stroke="#3a3a3a" stroke-width="0.75"/>
<rect x="171.09" y="193.02" width="10.93" height="9.03" fill="#e2231a" stroke="#3a3a3a" stroke-width="0.75"/>
<rect x="171.09" y="202.05" width="10.93" height="9.03" fill="#45b649" stroke="#3a3a3a" stroke-width="0.75"/>
<rect x="171.09" y="211.08" width="10.93" height="9.03" fill="#fff" stroke="#3a3a3a" stroke-width="0.75"/>
<rect x="171.09" y="220.11" width="10.93" height="9.03" fill="#fff" stroke="#3a3a3a" stroke-width="0.75"/>
<rect x="182.02" y="156.90" width="10.93" height="9.03" fill="#f2e200" stroke="#3a3a3a" stroke-width="0.75"/>
<rect x="182.02" y="165.93" width="10.93" height="9.03" fill="#f2e200" stroke="#3a3a3a" stroke-width="0.75"/>
<rect x="182.02" y="174.96" width="10.93" height="9.03" fill="#f2e200" stroke="#3a3a3a" stroke-width="0.75"/>
<rect x="182.02" y="183.99" width="10.93" height="9.03" fill="#f2e200" stroke="#3a3a3a" stroke-width="0.75"/>
<rect x="182.02" y="193.02" width="10.93" height="9.03" fill="#f2e200" stroke="#3a3a3a" stroke-width="0.75"/>
<rect x="182.02" y="202.05" width="10.93" height="9.03" fill="#f2e200" stroke="#3a3a3a" stroke-width="0.75"/>
<rect x="182.02" y="211.08" width="10.93" height="9.03" fill="#fff" stroke="#3a3a3a" stroke-width="0.75"/>
<rect x="182.02" y="220.11" width="10.93" height="9.03" fill="#fff" stroke="#3a3a3a" stroke-width="0.75"/>
<rect x="192.95" y="156.90" width="10.93" height="9.03" fill="#e2231a" stroke="#3a3a3a" stroke-width="0.75"/>
<rect x="192.95" y="165.93" width="10.93" height="9.03" fill="#e2231a" stroke="#3a3a3a" stroke-width="0.75"/>
<rect x="192.95" y="174.96" width="10.93" height="9.03" fill="#e2231a" stroke="#3a3a3a" stroke-width="0.75"/>
<rect x="192.95" y="183.99" width="10.93" height="9.03" fill="#e2231a" stroke="#3a3a3a" stroke-width="0.75"/>
<rect x="192.95" y="193.02" width="10.93" height="9.03" fill="#e2231a" stroke="#3a3a3a" stroke-width="0.75"/>
<rect x="192.95" y="202.05" width="10.93" height="9.03" fill="#f2e200" stroke="#3a3a3a" stroke-width="0.75"/>
<rect x="192.95" y="211.08" width="10.93" height="9.03" fill="#fff" stroke="#3a3a3a" stroke-width="0.75"/>
<rect x="192.95" y="220.11" width="10.93" height="9.03" fill="#fff" stroke="#3a3a3a" stroke-width="0.75"/>
<rect x="203.88" y="156.90" width="10.93" height="9.03" fill="#e2231a" stroke="#3a3a3a" stroke-width="0.75"/>
<rect x="203.88" y="165.93" width="10.93" height="9.03" fill="#e2231a" stroke="#3a3a3a" stroke-width="0.75"/>
<rect x="203.88" y="174.96" width="10.93" height="9.03" fill="#e2231a" stroke="#3a3a3a" stroke-width="0.75"/>
<rect x="203.88" y="183.99" width="10.93" height="9.03" fill="#fff" stroke="#3a3a3a" stroke-width="0.75"/>
<rect x="203.88" y="193.02" width="10.93" height="9.03" fill="#fff" stroke="#3a3a3a" stroke-width="0.75"/>
<rect x="203.88" y="202.05" width="10.93" height="9.03" fill="#fff" stroke="#3a3a3a" stroke-width="0.75"/>
<rect x="203.88" y="211.08" width="10.93" height="9.03" fill="#e2231a" stroke="#3a3a3a" stroke-width="0.75"/>
<rect x="203.88" y="220.11" width="10.93" height="9.03" fill="#e2231a" stroke="#3a3a3a" stroke-width="0.75"/>
<rect x="214.81" y="156.90" width="10.93" height="9.03" fill="#f2e200" stroke="#3a3a3a" stroke-width="0.75"/>
<rect x="214.81" y="165.93" width="10.93" height="9.03" fill="#e2231a" stroke="#3a3a3a" stroke-width="0.75"/>
<rect x="214.81" y="174.96" width="10.93" height="9.03" fill="#e2231a" stroke="#3a3a3a" stroke-width="0.75"/>
<rect x="214.81" y="183.99" width="10.93" height="9.03" fill="#fff" stroke="#3a3a3a" stroke-width="0.75"/>
<rect x="214.81" y="193.02" width="10.93" height="9.03" fill="#e2231a" stroke="#3a3a3a" stroke-width="0.75"/>
<rect x="214.81" y="202.05" width="10.93" height="9.03" fill="#f2e200" stroke="#3a3a3a" stroke-width="0.75"/>
<rect x="214.81" y="211.08" width="10.93" height="9.03" fill="#fff" stroke="#3a3a3a" stroke-width="0.75"/>
<rect x="214.81" y="220.11" width="10.93" height="9.03" fill="#fff" stroke="#3a3a3a" stroke-width="0.75"/>
<rect x="225.74" y="156.90" width="10.93" height="9.03" fill="#e2231a" stroke="#3a3a3a" stroke-width="0.75"/>
<rect x="225.74" y="165.93" width="10.93" height="9.03" fill="#e2231a" stroke="#3a3a3a" stroke-width="0.75"/>
<rect x="225.74" y="174.96" width="10.93" height="9.03" fill="#e2231a" stroke="#3a3a3a" stroke-width="0.75"/>
<rect x="225.74" y="183.99" width="10.93" height="9.03" fill="#e2231a" stroke="#3a3a3a" stroke-width="0.75"/>
<rect x="225.74" y="193.02" width="10.93" height="9.03" fill="#e2231a" stroke="#3a3a3a" stroke-width="0.75"/>
<rect x="225.74" y="202.05" width="10.93" height="9.03" fill="#e2231a" stroke="#3a3a3a" stroke-width="0.75"/>
<rect x="225.74" y="211.08" width="10.93" height="9.03" fill="#fff" stroke="#3a3a3a" stroke-width="0.75"/>
<rect x="225.74" y="220.11" width="10.93" height="9.03" fill="#fff" stroke="#3a3a3a" stroke-width="0.75"/>
<rect x="236.67" y="156.90" width="10.93" height="9.03" fill="#e2231a" stroke="#3a3a3a" stroke-width="0.75"/>
<rect x="236.67" y="165.93" width="10.93" height="9.03" fill="#f2e200" stroke="#3a3a3a" stroke-width="0.75"/>
<rect x="236.67" y="174.96" width="10.93" height="9.03" fill="#fff" stroke="#3a3a3a" stroke-width="0.75"/>
<rect x="236.67" y="183.99" width="10.93" height="9.03" fill="#e2231a" stroke="#3a3a3a" stroke-width="0.75"/>
<rect x="236.67" y="193.02" width="10.93" height="9.03" fill="#f2e200" stroke="#3a3a3a" stroke-width="0.75"/>
<rect x="236.67" y="202.05" width="10.93" height="9.03" fill="#fff" stroke="#3a3a3a" stroke-width="0.75"/>
<rect x="236.67" y="211.08" width="10.93" height="9.03" fill="#e2231a" stroke="#3a3a3a" stroke-width="0.75"/>
<rect x="236.67" y="220.11" width="10.93" height="9.03" fill="#fff" stroke="#3a3a3a" stroke-width="0.75"/>
<rect x="247.60" y="156.90" width="10.93" height="9.03" fill="#e2231a" stroke="#3a3a3a" stroke-width="0.75"/>
<rect x="247.60" y="165.93" width="10.93" height="9.03" fill="#f2e200" stroke="#3a3a3a" stroke-width="0.75"/>
<rect x="247.60" y="174.96" width="10.93" height="9.03" fill="#e2231a" stroke="#3a3a3a" stroke-width="0.75"/>
<rect x="247.60" y="183.99" width="10.93" height="9.03" fill="#f2e200" stroke="#3a3a3a" stroke-width="0.75"/>
<rect x="247.60" y="193.02" width="10.93" height="9.03" fill="#f2e200" stroke="#3a3a3a" stroke-width="0.75"/>
<rect x="247.60" y="202.05" width="10.93" height="9.03" fill="#f2e200" stroke="#3a3a3a" stroke-width="0.75"/>
<rect x="247.60" y="211.08" width="10.93" height="9.03" fill="#fff" stroke="#3a3a3a" stroke-width="0.75"/>
<rect x="247.60" y="220.11" width="10.93" height="9.03" fill="#fff" stroke="#3a3a3a" stroke-width="0.75"/>
<rect x="258.53" y="156.90" width="10.93" height="9.03" fill="#e2231a" stroke="#3a3a3a" stroke-width="0.75"/>
<rect x="258.53" y="165.93" width="10.93" height="9.03" fill="#45b649" stroke="#3a3a3a" stroke-width="0.75"/>
<rect x="258.53" y="174.96" width="10.93" height="9.03" fill="#e2231a" stroke="#3a3a3a" stroke-width="0.75"/>
<rect x="258.53" y="183.99" width="10.93" height="9.03" fill="#e2231a" stroke="#3a3a3a" stroke-width="0.75"/>
<rect x="258.53" y="193.02" width="10.93" height="9.03" fill="#fff" stroke="#3a3a3a" stroke-width="0.75"/>
<rect x="258.53" y="202.05" width="10.93" height="9.03" fill="#fff" stroke="#3a3a3a" stroke-width="0.75"/>
<rect x="258.53" y="211.08" width="10.93" height="9.03" fill="#f2e200" stroke="#3a3a3a" stroke-width="0.75"/>
<rect x="258.53" y="220.11" width="10.93" height="9.03" fill="#e2231a" stroke="#3a3a3a" stroke-width="0.75"/>
<text x="272.20" y="153.40" font-size="6.5" fill="#222" stroke="#222" stroke-width="0.12" text-anchor="start" font-weight="normal" >Pretreatment status</text>
<text x="272.20" y="163.50" font-size="6.5" fill="#222" stroke="#222" stroke-width="0.12" text-anchor="start" font-weight="normal" >Ifosfamide</text>
<text x="272.20" y="173.73" font-size="6.5" fill="#222" stroke="#222" stroke-width="0.12" text-anchor="start" font-weight="normal" >Vincristine</text>
<text x="272.20" y="181.56" font-size="6.5" fill="#222" stroke="#222" stroke-width="0.12" text-anchor="start" font-weight="normal" >Doxorubicin</text>
<text x="272.20" y="190.59" font-size="6.5" fill="#222" stroke="#222" stroke-width="0.12" text-anchor="start" font-weight="normal" >Etoposide</text>
<text x="272.20" y="199.62" font-size="6.5" fill="#222" stroke="#222" stroke-width="0.12" text-anchor="start" font-weight="normal" >Carboplatin</text>
<text x="272.20" y="208.65" font-size="6.5" fill="#222" stroke="#222" stroke-width="0.12" text-anchor="start" font-weight="normal" >Actinomycin D</text>
<text x="272.20" y="217.68" font-size="6.5" fill="#222" stroke="#222" stroke-width="0.12" text-anchor="start" font-weight="normal" >Dacarbacine</text>
<text x="272.20" y="226.71" font-size="6.5" fill="#222" stroke="#222" stroke-width="0.12" text-anchor="start" font-weight="normal" >Cisplatin</text>
<text x="0" y="0" font-size="6.6" fill="#333" text-anchor="end" transform="translate(37.17,236.40) rotate(-47)">EWS_3a</text>
<text x="0" y="0" font-size="6.6" fill="#333" text-anchor="end" transform="translate(45.49,238.70) rotate(-47)">MNA NB_4</text>
<text x="0" y="0" font-size="6.6" fill="#333" text-anchor="end" transform="translate(58.62,236.10) rotate(-47)">ARMS_3</text>
<text x="0" y="0" font-size="6.6" fill="#333" text-anchor="end" transform="translate(70.16,234.50) rotate(-47)">MNA NB_2</text>
<text x="0" y="0" font-size="6.6" fill="#333" text-anchor="end" transform="translate(81.69,236.20) rotate(-47)">ERMS_2a</text>
<text x="0" y="0" font-size="6.6" fill="#333" text-anchor="end" transform="translate(92.02,236.80) rotate(-47)">EWS_3b</text>
<text x="0" y="0" font-size="6.6" fill="#333" text-anchor="end" transform="translate(103.95,234.80) rotate(-47)">NMNA NB_1</text>
<text x="0" y="0" font-size="6.6" fill="#333" text-anchor="end" transform="translate(110.97,239.50) rotate(-47)">MNA NB_5</text>
<text x="0" y="0" font-size="6.6" fill="#333" text-anchor="end" transform="translate(124.61,237.20) rotate(-47)">EWS_5</text>
<text x="0" y="0" font-size="6.6" fill="#333" text-anchor="end" transform="translate(135.93,236.10) rotate(-47)">ERMS_2b</text>
<text x="0" y="0" font-size="6.6" fill="#333" text-anchor="end" transform="translate(147.66,234.80) rotate(-47)">NMNA NB_4</text>
<text x="0" y="0" font-size="6.6" fill="#333" text-anchor="end" transform="translate(158.59,234.50) rotate(-47)">NMNA NB_2</text>
<text x="0" y="0" font-size="6.6" fill="#333" text-anchor="end" transform="translate(167.62,237.20) rotate(-47)">EWS_2</text>
<text x="0" y="0" font-size="6.6" fill="#333" text-anchor="end" transform="translate(178.16,237.60) rotate(-47)">EWS_4</text>
<text x="0" y="0" font-size="6.6" fill="#333" text-anchor="end" transform="translate(190.58,236.50) rotate(-47)">ERMS_1</text>
<text x="0" y="0" font-size="6.6" fill="#333" text-anchor="end" transform="translate(201.91,237.20) rotate(-47)">ARMS_4</text>
<text x="0" y="0" font-size="6.6" fill="#333" text-anchor="end" transform="translate(213.65,235.70) rotate(-47)">NMNA NB_3</text>
<text x="0" y="0" font-size="6.6" fill="#333" text-anchor="end" transform="translate(223.78,237.20) rotate(-47)">ARMS_1</text>
<text x="0" y="0" font-size="6.6" fill="#333" text-anchor="end" transform="translate(235.20,236.40) rotate(-47)">ERMS_2c</text>
<text x="0" y="0" font-size="6.6" fill="#333" text-anchor="end" transform="translate(246.63,234.10) rotate(-47)">MNA NB_1</text>
<text x="0" y="0" font-size="6.6" fill="#333" text-anchor="end" transform="translate(255.66,237.40) rotate(-47)">ARMS_2</text>
<text x="0" y="0" font-size="6.6" fill="#333" text-anchor="end" transform="translate(268.39,235.00) rotate(-47)">MNA NB_3</text>
<line x1="388.60" y1="28.40" x2="388.60" y2="106.00" stroke="#333" stroke-width="0.8"/>
<line x1="388.60" y1="106.00" x2="504.30" y2="106.00" stroke="#333" stroke-width="0.8"/>
<line x1="388.60" y1="106.00" x2="388.60" y2="107.80" stroke="#333" stroke-width="0.8"/>
<text x="388.60" y="116.50" font-size="6.6" fill="#333" stroke="#333" stroke-width="0.12" text-anchor="middle" font-weight="normal" >0</text>
<line x1="427.20" y1="106.00" x2="427.20" y2="107.80" stroke="#333" stroke-width="0.8"/>
<text x="427.20" y="116.50" font-size="6.6" fill="#333" stroke="#333" stroke-width="0.12" text-anchor="middle" font-weight="normal" >10</text>
<line x1="465.80" y1="106.00" x2="465.80" y2="107.80" stroke="#333" stroke-width="0.8"/>
<text x="465.80" y="116.50" font-size="6.6" fill="#333" stroke="#333" stroke-width="0.12" text-anchor="middle" font-weight="normal" >20</text>
<line x1="504.30" y1="106.00" x2="504.30" y2="107.80" stroke="#333" stroke-width="0.8"/>
<text x="504.30" y="116.50" font-size="6.6" fill="#333" stroke="#333" stroke-width="0.12" text-anchor="middle" font-weight="normal" >30</text>
<line x1="386.60" y1="35.80" x2="388.60" y2="35.80" stroke="#333" stroke-width="0.8"/>
<text x="385.10" y="38.30" font-size="6.6" fill="#333" stroke="#333" stroke-width="0.12" text-anchor="end" font-weight="normal" >100</text>
<line x1="386.60" y1="70.90" x2="388.60" y2="70.90" stroke="#333" stroke-width="0.8"/>
<text x="385.10" y="73.40" font-size="6.6" fill="#333" stroke="#333" stroke-width="0.12" text-anchor="end" font-weight="normal" >50</text>
<line x1="386.60" y1="106.00" x2="388.60" y2="106.00" stroke="#333" stroke-width="0.8"/>
<text x="385.10" y="108.50" font-size="6.6" fill="#333" stroke="#333" stroke-width="0.12" text-anchor="end" font-weight="normal" >0</text>
<text x="0" y="0" font-size="6.5" fill="#333" text-anchor="middle" transform="translate(368.2,70.90) rotate(-90)">Progression-free survival (%)</text>
<text x="445.00" y="27.30" font-size="6.6" fill="#222" stroke="#222" stroke-width="0.12" text-anchor="middle" font-weight="normal" >ARMS</text>
<text x="358.60" y="10.50" font-size="11.5" fill="#000" stroke="#000" stroke-width="0.12" text-anchor="start" font-weight="bold" >B</text>
<text x="441.00" y="127.10" font-size="6.6" fill="#333" stroke="#333" stroke-width="0.12" text-anchor="middle" font-weight="normal" >Treatment duration (d)</text>
<polyline points="388.60,35.80 401.70,35.80 401.70,42.80 452.00,42.80" fill="none" stroke="#e8403a" stroke-width="0.9"/>
<polyline points="388.60,35.80 411.20,35.80 411.20,42.80 438.30,42.80 438.30,52.50 465.60,52.50 465.60,66.00 465.60,66.00" fill="none" stroke="#1ea5b8" stroke-width="0.9"/>
<polyline points="388.60,35.80 397.00,35.80 397.00,40.00 406.60,40.00 406.60,42.30 492.40,42.30" fill="none" stroke="#3d4ea3" stroke-width="0.9"/>
<polyline points="388.60,35.80 396.00,35.80 396.00,46.30 414.50,46.30 414.50,52.00 434.00,52.00 434.00,62.00 438.50,62.00 438.50,82.40 446.10,82.40 446.10,95.40 465.60,95.40 465.60,101.50 465.60,101.50" fill="none" stroke="#f0904a" stroke-width="0.9"/>
<polyline points="388.60,35.80 396.00,35.80 396.00,43.40 400.00,43.40 400.00,47.80 403.40,47.80 403.40,53.40 406.70,53.40 406.70,60.10 408.30,60.10 408.30,65.70 410.00,65.70 410.00,70.80 414.50,70.80 414.50,79.00 416.70,79.00 416.70,84.60 420.50,84.60 420.50,86.40 422.30,86.40 422.30,90.80 424.50,90.80 424.50,94.60 427.90,94.60 427.90,96.80 437.80,96.80 437.80,99.50 443.00,99.50 443.00,102.40 449.50,102.40 449.50,104.60 465.60,104.60 465.60,106.00 465.60,106.00" fill="none" stroke="#222" stroke-width="0.9"/>
<line x1="420.00" y1="41.30" x2="420.00" y2="43.30" stroke="#3d4ea3" stroke-width="0.5"/>
<line x1="440.00" y1="41.30" x2="440.00" y2="43.30" stroke="#3d4ea3" stroke-width="0.5"/>
<line x1="458.00" y1="41.30" x2="458.00" y2="43.30" stroke="#3d4ea3" stroke-width="0.5"/>
<line x1="470.00" y1="41.30" x2="470.00" y2="43.30" stroke="#3d4ea3" stroke-width="0.5"/>
<line x1="480.00" y1="41.30" x2="480.00" y2="43.30" stroke="#3d4ea3" stroke-width="0.5"/>
<line x1="484.00" y1="41.30" x2="484.00" y2="43.30" stroke="#3d4ea3" stroke-width="0.5"/>
<line x1="488.00" y1="41.30" x2="488.00" y2="43.30" stroke="#3d4ea3" stroke-width="0.5"/>
<line x1="450.00" y1="51.50" x2="450.00" y2="53.50" stroke="#1ea5b8" stroke-width="0.5"/>
<line x1="458.00" y1="51.50" x2="458.00" y2="53.50" stroke="#1ea5b8" stroke-width="0.5"/>
<text x="466.40" y="68.60" font-size="6.6" fill="#222" stroke="#222" stroke-width="0.12" text-anchor="start" font-weight="normal" >Vehicle</text>
<text x="466.40" y="74.80" font-size="6.6" fill="#3d4ea3" stroke="#3d4ea3" stroke-width="0.12" text-anchor="start" font-weight="normal" >Elimusertib</text>
<text x="466.40" y="81.00" font-size="6.6" fill="#e8403a" stroke="#e8403a" stroke-width="0.12" text-anchor="start" font-weight="normal" >Actinomycin D</text>
<text x="466.40" y="87.20" font-size="6.6" fill="#f0904a" stroke="#f0904a" stroke-width="0.12" text-anchor="start" font-weight="normal" >Ifosfamide</text>
<text x="466.40" y="93.40" font-size="6.6" fill="#1ea5b8" stroke="#1ea5b8" stroke-width="0.12" text-anchor="start" font-weight="normal" >Vincristine</text>
<line x1="388.70" y1="151.20" x2="388.70" y2="228.50" stroke="#333" stroke-width="0.8"/>
<line x1="388.70" y1="228.50" x2="504.40" y2="228.50" stroke="#333" stroke-width="0.8"/>
<line x1="388.70" y1="228.50" x2="388.70" y2="230.30" stroke="#333" stroke-width="0.8"/>
<text x="388.70" y="237.70" font-size="6.6" fill="#333" stroke="#333" stroke-width="0.12" text-anchor="middle" font-weight="normal" >0</text>
<line x1="427.20" y1="228.50" x2="427.20" y2="230.30" stroke="#333" stroke-width="0.8"/>
<text x="427.20" y="237.70" font-size="6.6" fill="#333" stroke="#333" stroke-width="0.12" text-anchor="middle" font-weight="normal" >10</text>
<line x1="465.80" y1="228.50" x2="465.80" y2="230.30" stroke="#333" stroke-width="0.8"/>
<text x="465.80" y="237.70" font-size="6.6" fill="#333" stroke="#333" stroke-width="0.12" text-anchor="middle" font-weight="normal" >20</text>
<line x1="504.40" y1="228.50" x2="504.40" y2="230.30" stroke="#333" stroke-width="0.8"/>
<text x="504.40" y="237.70" font-size="6.6" fill="#333" stroke="#333" stroke-width="0.12" text-anchor="middle" font-weight="normal" >30</text>
<line x1="386.70" y1="158.60" x2="388.70" y2="158.60" stroke="#333" stroke-width="0.8"/>
<text x="385.20" y="161.10" font-size="6.6" fill="#333" stroke="#333" stroke-width="0.12" text-anchor="end" font-weight="normal" >100</text>
<line x1="386.70" y1="193.55" x2="388.70" y2="193.55" stroke="#333" stroke-width="0.8"/>
<text x="385.20" y="196.05" font-size="6.6" fill="#333" stroke="#333" stroke-width="0.12" text-anchor="end" font-weight="normal" >50</text>
<line x1="386.70" y1="228.50" x2="388.70" y2="228.50" stroke="#333" stroke-width="0.8"/>
<text x="385.20" y="231.00" font-size="6.6" fill="#333" stroke="#333" stroke-width="0.12" text-anchor="end" font-weight="normal" >0</text>
<text x="0" y="0" font-size="6.5" fill="#333" text-anchor="middle" transform="translate(368.2,193.55) rotate(-90)">Progression-free survival (%)</text>
<text x="446.70" y="156.50" font-size="6.6" fill="#222" stroke="#222" stroke-width="0.12" text-anchor="middle" font-weight="normal" >ERMS</text>
<text x="361.80" y="142.20" font-size="11.5" fill="#000" stroke="#000" stroke-width="0.12" text-anchor="start" font-weight="bold" >C</text>
<text x="444.00" y="248.60" font-size="6.6" fill="#333" stroke="#333" stroke-width="0.12" text-anchor="middle" font-weight="normal" >Treatment duration (d)</text>
<polyline points="388.70,158.60 408.40,158.60 408.40,176.00 446.80,176.00 446.80,187.10 489.20,187.10 489.20,210.00 489.20,210.00" fill="none" stroke="#3d4ea3" stroke-width="0.9"/>
<polyline points="388.70,158.60 416.10,158.60 416.10,169.20 416.60,169.20 416.60,176.00 427.80,176.00 427.80,180.00 446.80,180.00 446.80,187.20 492.70,187.20" fill="none" stroke="#f0904a" stroke-width="0.9"/>
<polyline points="388.70,158.60 419.80,158.60 419.80,176.00 446.60,176.00 446.60,180.20 492.70,180.20" fill="none" stroke="#1ea5b8" stroke-width="0.9"/>
<polyline points="388.70,158.60 419.40,158.60 419.40,193.10 431.70,193.10 431.70,202.50 435.20,202.50 435.20,213.00 463.30,213.00 463.30,228.50 463.30,228.50" fill="none" stroke="#e8403a" stroke-width="0.9"/>
<polyline points="388.70,158.60 396.00,158.60 396.00,166.20 400.00,166.20 400.00,183.30 403.40,183.30 403.40,185.50 407.80,185.50 407.80,203.40 410.00,203.40 410.00,205.60 413.40,205.60 413.40,206.20 419.00,206.20 419.00,210.70 422.30,210.70 422.30,212.90 446.80,212.90 446.80,215.60 466.80,215.60 466.80,221.50 477.40,221.50 477.40,228.50 477.40,228.50" fill="none" stroke="#222" stroke-width="0.9"/>
<line x1="430.00" y1="179.20" x2="430.00" y2="181.20" stroke="#1ea5b8" stroke-width="0.5"/>
<line x1="440.00" y1="179.20" x2="440.00" y2="181.20" stroke="#1ea5b8" stroke-width="0.5"/>
<line x1="456.00" y1="179.20" x2="456.00" y2="181.20" stroke="#1ea5b8" stroke-width="0.5"/>
<line x1="466.00" y1="179.20" x2="466.00" y2="181.20" stroke="#1ea5b8" stroke-width="0.5"/>
<line x1="480.00" y1="179.20" x2="480.00" y2="181.20" stroke="#1ea5b8" stroke-width="0.5"/>
<line x1="446.80" y1="187.20" x2="492.70" y2="187.20" stroke="#c26a50" stroke-width="0.8"/>
<line x1="452.00" y1="186.20" x2="452.00" y2="188.20" stroke="#b85a48" stroke-width="0.5"/>
<line x1="462.00" y1="186.20" x2="462.00" y2="188.20" stroke="#b85a48" stroke-width="0.5"/>
<line x1="472.00" y1="186.20" x2="472.00" y2="188.20" stroke="#b85a48" stroke-width="0.5"/>
<line x1="480.00" y1="186.20" x2="480.00" y2="188.20" stroke="#b85a48" stroke-width="0.5"/>
<text x="476.20" y="201.00" font-size="6.6" fill="#222" stroke="#222" stroke-width="0.12" text-anchor="start" font-weight="normal" >Vehicle</text>
<text x="476.20" y="207.20" font-size="6.6" fill="#3d4ea3" stroke="#3d4ea3" stroke-width="0.12" text-anchor="start" font-weight="normal" >Elimusertib</text>
<text x="476.20" y="213.40" font-size="6.6" fill="#e8403a" stroke="#e8403a" stroke-width="0.12" text-anchor="start" font-weight="normal" >Actinomycin D</text>
<text x="476.20" y="219.60" font-size="6.6" fill="#f0904a" stroke="#f0904a" stroke-width="0.12" text-anchor="start" font-weight="normal" >Ifosfamide</text>
<text x="476.20" y="225.80" font-size="6.6" fill="#1ea5b8" stroke="#1ea5b8" stroke-width="0.12" text-anchor="start" font-weight="normal" >Vincristine</text>
<line x1="31.40" y1="303.50" x2="31.40" y2="380.80" stroke="#333" stroke-width="0.8"/>
<line x1="31.40" y1="380.80" x2="146.30" y2="380.80" stroke="#333" stroke-width="0.8"/>
<line x1="31.40" y1="380.80" x2="31.40" y2="382.60" stroke="#333" stroke-width="0.8"/>
<text x="31.40" y="390.10" font-size="6.6" fill="#333" stroke="#333" stroke-width="0.12" text-anchor="middle" font-weight="normal" >0</text>
<line x1="60.50" y1="380.80" x2="60.50" y2="382.60" stroke="#333" stroke-width="0.8"/>
<text x="60.50" y="390.10" font-size="6.6" fill="#333" stroke="#333" stroke-width="0.12" text-anchor="middle" font-weight="normal" >10</text>
<line x1="89.00" y1="380.80" x2="89.00" y2="382.60" stroke="#333" stroke-width="0.8"/>
<text x="89.00" y="390.10" font-size="6.6" fill="#333" stroke="#333" stroke-width="0.12" text-anchor="middle" font-weight="normal" >20</text>
<line x1="117.80" y1="380.80" x2="117.80" y2="382.60" stroke="#333" stroke-width="0.8"/>
<text x="117.80" y="390.10" font-size="6.6" fill="#333" stroke="#333" stroke-width="0.12" text-anchor="middle" font-weight="normal" >30</text>
<line x1="146.30" y1="380.80" x2="146.30" y2="382.60" stroke="#333" stroke-width="0.8"/>
<text x="146.30" y="390.10" font-size="6.6" fill="#333" stroke="#333" stroke-width="0.12" text-anchor="middle" font-weight="normal" >40</text>
<line x1="29.40" y1="310.90" x2="31.40" y2="310.90" stroke="#333" stroke-width="0.8"/>
<text x="27.90" y="313.40" font-size="6.6" fill="#333" stroke="#333" stroke-width="0.12" text-anchor="end" font-weight="normal" >100</text>
<line x1="29.40" y1="345.85" x2="31.40" y2="345.85" stroke="#333" stroke-width="0.8"/>
<text x="27.90" y="348.35" font-size="6.6" fill="#333" stroke="#333" stroke-width="0.12" text-anchor="end" font-weight="normal" >50</text>
<line x1="29.40" y1="380.80" x2="31.40" y2="380.80" stroke="#333" stroke-width="0.8"/>
<text x="27.90" y="383.30" font-size="6.6" fill="#333" stroke="#333" stroke-width="0.12" text-anchor="end" font-weight="normal" >0</text>
<text x="0" y="0" font-size="6.5" fill="#333" text-anchor="middle" transform="translate(11.8,345.85) rotate(-90)">Progression-free survival (%)</text>
<text x="85.70" y="307.00" font-size="6.6" fill="#222" stroke="#222" stroke-width="0.12" text-anchor="middle" font-weight="normal" >EWS</text>
<text x="6.60" y="291.20" font-size="11.5" fill="#000" stroke="#000" stroke-width="0.12" text-anchor="start" font-weight="bold" >D</text>
<text x="86.00" y="400.30" font-size="6.6" fill="#333" stroke="#333" stroke-width="0.12" text-anchor="middle" font-weight="normal" >Treatment duration (d)</text>
<polyline points="31.40,310.90 37.00,310.90 37.00,316.20 71.00,316.20 71.00,328.30 83.80,328.30 83.80,341.00 92.80,341.00" fill="none" stroke="#4cb050" stroke-width="0.9"/>
<polyline points="31.40,310.90 37.00,310.90 37.00,316.20 71.00,316.20 71.00,328.30 83.80,328.30 83.80,350.60 94.50,350.60" fill="none" stroke="#1ea5b8" stroke-width="0.9"/>
<polyline points="31.40,310.90 43.00,310.90 43.00,317.50 48.80,317.50 48.80,325.60 60.30,325.60 60.30,332.30 83.80,332.30" fill="none" stroke="#f2e24a" stroke-width="0.9"/>
<polyline points="31.40,310.90 40.80,310.90 40.80,320.20 43.50,320.20 43.50,327.00 50.90,327.00 50.90,336.30 62.30,336.30 62.30,338.40 64.30,338.40 64.30,347.10 69.50,347.10 69.50,349.00 74.30,349.00 74.30,366.70 92.00,366.70" fill="none" stroke="#f0904a" stroke-width="0.9"/>
<polyline points="31.40,310.90 38.70,310.90 38.70,316.20 51.50,316.20 51.50,327.60 54.90,327.60 54.90,332.30 57.60,332.30 57.60,335.30 61.00,335.30 61.00,343.00 63.00,343.00 63.00,344.20 67.10,344.20 67.10,348.30 73.50,348.30 73.50,352.20 80.00,352.20 80.00,354.60 88.80,354.60 88.80,362.70 98.50,362.70" fill="none" stroke="#3d4ea3" stroke-width="0.9"/>
<polyline points="31.40,310.90 48.80,310.90 48.80,332.30 115.40,332.30" fill="none" stroke="#e8403a" stroke-width="0.9"/>
<line x1="48.80" y1="332.30" x2="83.80" y2="332.30" stroke="#8a5a2a" stroke-width="0.9"/>
<polyline points="31.40,310.90 37.40,310.90 37.40,313.50 40.10,313.50 40.10,324.20 42.10,324.20 42.10,327.00 42.80,327.00 42.80,333.60 45.00,333.60 45.00,335.00 45.90,335.00 45.90,341.70 48.20,341.70 48.20,350.00 48.80,350.00 48.80,353.50 50.60,353.50 50.60,362.40 52.80,362.40 52.80,370.20 55.00,370.20 55.00,374.60 58.40,374.60 58.40,378.00 60.60,378.00 60.60,380.20 69.50,380.20 69.50,380.80 69.50,380.80" fill="none" stroke="#222" stroke-width="0.9"/>
<line x1="88.00" y1="331.30" x2="88.00" y2="333.30" stroke="#e8403a" stroke-width="0.5"/>
<line x1="104.00" y1="331.30" x2="104.00" y2="333.30" stroke="#e8403a" stroke-width="0.5"/>
<line x1="89.00" y1="340.00" x2="89.00" y2="342.00" stroke="#4cb050" stroke-width="0.5"/>
<line x1="88.00" y1="349.60" x2="88.00" y2="351.60" stroke="#1ea5b8" stroke-width="0.5"/>
<line x1="92.00" y1="349.60" x2="92.00" y2="351.60" stroke="#1ea5b8" stroke-width="0.5"/>
<text x="102.70" y="343.60" font-size="6.6" fill="#222" stroke="#222" stroke-width="0.12" text-anchor="start" font-weight="normal" >Vehicle</text>
<text x="102.70" y="349.65" font-size="6.6" fill="#3d4ea3" stroke="#3d4ea3" stroke-width="0.12" text-anchor="start" font-weight="normal" >Elimusertib</text>
<text x="102.70" y="355.70" font-size="6.6" fill="#e8403a" stroke="#e8403a" stroke-width="0.12" text-anchor="start" font-weight="normal" >Actinomycin D</text>
<text x="102.70" y="361.75" font-size="6.6" fill="#f0904a" stroke="#f0904a" stroke-width="0.12" text-anchor="start" font-weight="normal" >Ifosfamide</text>
<text x="102.70" y="367.80" font-size="6.6" fill="#1ea5b8" stroke="#1ea5b8" stroke-width="0.12" text-anchor="start" font-weight="normal" >Vincristine</text>
<text x="102.70" y="373.85" font-size="6.6" fill="#4cb050" stroke="#4cb050" stroke-width="0.12" text-anchor="start" font-weight="normal" >Doxorubicin</text>
<text x="102.70" y="379.90" font-size="6.6" fill="#f2e24a" stroke="#f2e24a" stroke-width="0.12" text-anchor="start" font-weight="normal" >Etoposide</text>
<line x1="205.90" y1="303.30" x2="205.90" y2="380.00" stroke="#333" stroke-width="0.8"/>
<line x1="205.90" y1="380.00" x2="322.40" y2="380.00" stroke="#333" stroke-width="0.8"/>
<line x1="205.90" y1="380.00" x2="205.90" y2="381.80" stroke="#333" stroke-width="0.8"/>
<text x="205.90" y="389.60" font-size="6.6" fill="#333" stroke="#333" stroke-width="0.12" text-anchor="middle" font-weight="normal" >0</text>
<line x1="229.20" y1="380.00" x2="229.20" y2="381.80" stroke="#333" stroke-width="0.8"/>
<text x="229.20" y="389.60" font-size="6.6" fill="#333" stroke="#333" stroke-width="0.12" text-anchor="middle" font-weight="normal" >5</text>
<line x1="252.50" y1="380.00" x2="252.50" y2="381.80" stroke="#333" stroke-width="0.8"/>
<text x="252.50" y="389.60" font-size="6.6" fill="#333" stroke="#333" stroke-width="0.12" text-anchor="middle" font-weight="normal" >10</text>
<line x1="275.80" y1="380.00" x2="275.80" y2="381.80" stroke="#333" stroke-width="0.8"/>
<text x="275.80" y="389.60" font-size="6.6" fill="#333" stroke="#333" stroke-width="0.12" text-anchor="middle" font-weight="normal" >15</text>
<line x1="299.10" y1="380.00" x2="299.10" y2="381.80" stroke="#333" stroke-width="0.8"/>
<text x="299.10" y="389.60" font-size="6.6" fill="#333" stroke="#333" stroke-width="0.12" text-anchor="middle" font-weight="normal" >20</text>
<line x1="322.40" y1="380.00" x2="322.40" y2="381.80" stroke="#333" stroke-width="0.8"/>
<text x="322.40" y="389.60" font-size="6.6" fill="#333" stroke="#333" stroke-width="0.12" text-anchor="middle" font-weight="normal" >25</text>
<line x1="203.90" y1="310.70" x2="205.90" y2="310.70" stroke="#333" stroke-width="0.8"/>
<text x="202.40" y="313.20" font-size="6.6" fill="#333" stroke="#333" stroke-width="0.12" text-anchor="end" font-weight="normal" >100</text>
<line x1="203.90" y1="345.35" x2="205.90" y2="345.35" stroke="#333" stroke-width="0.8"/>
<text x="202.40" y="347.85" font-size="6.6" fill="#333" stroke="#333" stroke-width="0.12" text-anchor="end" font-weight="normal" >50</text>
<line x1="203.90" y1="380.00" x2="205.90" y2="380.00" stroke="#333" stroke-width="0.8"/>
<text x="202.40" y="382.50" font-size="6.6" fill="#333" stroke="#333" stroke-width="0.12" text-anchor="end" font-weight="normal" >0</text>
<text x="0" y="0" font-size="6.5" fill="#333" text-anchor="middle" transform="translate(187.0,345.35) rotate(-90)">Progression-free survival (%)</text>
<text x="265.50" y="299.40" font-size="6.6" fill="#222" stroke="#222" stroke-width="0.12" text-anchor="middle" font-weight="normal" >MNA NB</text>
<text x="176.60" y="291.40" font-size="11.5" fill="#000" stroke="#000" stroke-width="0.12" text-anchor="start" font-weight="bold" >E</text>
<text x="260.50" y="401.80" font-size="6.6" fill="#333" stroke="#333" stroke-width="0.12" text-anchor="middle" font-weight="normal" >Treatment duration (d)</text>
<polyline points="205.90,310.50 215.40,310.50 215.40,317.40 220.40,317.40 220.40,322.00 224.80,322.00 224.80,350.50 233.70,350.50 233.70,361.00 238.30,361.00 238.30,380.00 238.30,380.00" fill="none" stroke="#4cb050" stroke-width="0.9"/>
<polyline points="205.90,310.50 215.40,310.50 215.40,317.40 224.90,317.40 224.90,324.80 234.30,324.80 234.30,340.00 238.00,340.00 238.00,361.00 240.00,361.00" fill="none" stroke="#e9a37a" stroke-width="0.9"/>
<polyline points="205.90,310.50 215.40,310.50 215.40,317.40 224.90,317.40 224.90,328.30 234.30,328.30 234.30,345.00 243.60,345.00 243.60,357.30 252.80,357.30 252.80,362.80 257.40,362.80 257.40,380.00 257.40,380.00" fill="none" stroke="#f0904a" stroke-width="0.9"/>
<polyline points="205.90,310.50 215.40,310.50 215.40,317.40 224.90,317.40 224.90,324.80 234.30,324.80 234.30,338.00 243.60,338.00 243.60,353.00 257.40,353.00 257.40,363.30 258.00,363.30 258.00,380.00 258.00,380.00" fill="none" stroke="#6a3e9a" stroke-width="0.9"/>
<polyline points="205.90,310.50 215.40,310.50 215.40,317.40 224.90,317.40 224.90,323.30 238.60,323.30 238.60,351.00 257.40,351.00 257.40,380.00 257.40,380.00" fill="none" stroke="#f2e24a" stroke-width="0.9"/>
<polyline points="205.90,310.50 233.80,310.50 233.80,316.90 238.70,316.90 238.70,329.80 266.70,329.80" fill="none" stroke="#1ea5b8" stroke-width="0.9"/>
<polyline points="205.90,310.50 229.30,310.50 229.30,319.90 234.30,319.90 234.30,334.20 243.20,334.20 243.20,338.20 251.60,338.20 251.60,343.00 262.10,343.00 262.10,347.40 284.60,347.40 284.60,352.30 313.00,352.30" fill="none" stroke="#3d4ea3" stroke-width="0.9"/>
<polyline points="205.90,310.50 215.40,310.50 215.40,317.40 220.40,317.40 220.40,330.20 224.90,330.20 224.90,340.60 229.30,340.60 229.30,343.50 232.70,343.50 232.70,346.50 234.30,346.50 234.30,354.20 238.00,354.20 238.00,363.20 243.60,363.20 243.60,366.00 247.90,366.00 247.90,368.40 252.20,368.40 252.20,373.10 266.50,373.10 266.50,380.00 266.50,380.00" fill="none" stroke="#222" stroke-width="0.9"/>
<text x="288.50" y="311.70" font-size="6.6" fill="#222" stroke="#222" stroke-width="0.12" text-anchor="start" font-weight="normal" >Vehicle</text>
<text x="288.50" y="317.30" font-size="6.6" fill="#3d4ea3" stroke="#3d4ea3" stroke-width="0.12" text-anchor="start" font-weight="normal" >Elimusertib</text>
<text x="288.50" y="322.90" font-size="6.6" fill="#f0904a" stroke="#f0904a" stroke-width="0.12" text-anchor="start" font-weight="normal" >Ifosfamide</text>
<text x="288.50" y="328.50" font-size="6.6" fill="#1ea5b8" stroke="#1ea5b8" stroke-width="0.12" text-anchor="start" font-weight="normal" >Vincristine</text>
<text x="288.50" y="334.10" font-size="6.6" fill="#4cb050" stroke="#4cb050" stroke-width="0.12" text-anchor="start" font-weight="normal" >Doxorubicin</text>
<text x="288.50" y="339.70" font-size="6.6" fill="#f2e24a" stroke="#f2e24a" stroke-width="0.12" text-anchor="start" font-weight="normal" >Etoposide</text>
<text x="288.50" y="345.30" font-size="6.6" fill="#6a3e9a" stroke="#6a3e9a" stroke-width="0.12" text-anchor="start" font-weight="normal" >Dacarbacine</text>
<text x="288.50" y="350.90" font-size="6.6" fill="#e9a37a" stroke="#e9a37a" stroke-width="0.12" text-anchor="start" font-weight="normal" >Cisplatin</text>
<line x1="389.00" y1="303.30" x2="389.00" y2="380.00" stroke="#333" stroke-width="0.8"/>
<line x1="389.00" y1="380.00" x2="505.50" y2="380.00" stroke="#333" stroke-width="0.8"/>
<line x1="389.00" y1="380.00" x2="389.00" y2="381.80" stroke="#333" stroke-width="0.8"/>
<text x="389.00" y="389.60" font-size="6.6" fill="#333" stroke="#333" stroke-width="0.12" text-anchor="middle" font-weight="normal" >0</text>
<line x1="412.30" y1="380.00" x2="412.30" y2="381.80" stroke="#333" stroke-width="0.8"/>
<text x="412.30" y="389.60" font-size="6.6" fill="#333" stroke="#333" stroke-width="0.12" text-anchor="middle" font-weight="normal" >5</text>
<line x1="435.60" y1="380.00" x2="435.60" y2="381.80" stroke="#333" stroke-width="0.8"/>
<text x="435.60" y="389.60" font-size="6.6" fill="#333" stroke="#333" stroke-width="0.12" text-anchor="middle" font-weight="normal" >10</text>
<line x1="458.90" y1="380.00" x2="458.90" y2="381.80" stroke="#333" stroke-width="0.8"/>
<text x="458.90" y="389.60" font-size="6.6" fill="#333" stroke="#333" stroke-width="0.12" text-anchor="middle" font-weight="normal" >15</text>
<line x1="482.20" y1="380.00" x2="482.20" y2="381.80" stroke="#333" stroke-width="0.8"/>
<text x="482.20" y="389.60" font-size="6.6" fill="#333" stroke="#333" stroke-width="0.12" text-anchor="middle" font-weight="normal" >20</text>
<line x1="505.50" y1="380.00" x2="505.50" y2="381.80" stroke="#333" stroke-width="0.8"/>
<text x="505.50" y="389.60" font-size="6.6" fill="#333" stroke="#333" stroke-width="0.12" text-anchor="middle" font-weight="normal" >25</text>
<line x1="387.00" y1="310.70" x2="389.00" y2="310.70" stroke="#333" stroke-width="0.8"/>
<text x="385.50" y="313.20" font-size="6.6" fill="#333" stroke="#333" stroke-width="0.12" text-anchor="end" font-weight="normal" >100</text>
<line x1="387.00" y1="345.35" x2="389.00" y2="345.35" stroke="#333" stroke-width="0.8"/>
<text x="385.50" y="347.85" font-size="6.6" fill="#333" stroke="#333" stroke-width="0.12" text-anchor="end" font-weight="normal" >50</text>
<line x1="387.00" y1="380.00" x2="389.00" y2="380.00" stroke="#333" stroke-width="0.8"/>
<text x="385.50" y="382.50" font-size="6.6" fill="#333" stroke="#333" stroke-width="0.12" text-anchor="end" font-weight="normal" >0</text>
<text x="0" y="0" font-size="6.5" fill="#333" text-anchor="middle" transform="translate(371.0,345.35) rotate(-90)">Progression-free survival (%)</text>
<text x="448.00" y="300.20" font-size="6.6" fill="#222" stroke="#222" stroke-width="0.12" text-anchor="middle" font-weight="normal" >NMNA NB</text>
<text x="361.60" y="291.20" font-size="11.5" fill="#000" stroke="#000" stroke-width="0.12" text-anchor="start" font-weight="bold" >F</text>
<text x="444.50" y="399.90" font-size="6.6" fill="#333" stroke="#333" stroke-width="0.12" text-anchor="middle" font-weight="normal" >Treatment duration (d)</text>
<polyline points="389.00,310.60 397.90,310.60 397.90,321.00 402.90,321.00 402.90,340.70 412.80,340.70 412.80,334.40 422.90,334.40 422.90,361.00 449.60,361.00 449.60,380.00 449.60,380.00" fill="none" stroke="#f2e24a" stroke-width="0.9"/>
<polyline points="389.00,310.60 397.90,310.60 397.90,321.00 402.90,321.00 402.90,341.00 421.00,341.00 421.00,372.40 430.00,372.40 430.00,380.00 430.00,380.00" fill="none" stroke="#6a3e9a" stroke-width="0.9"/>
<polyline points="389.00,310.60 397.90,310.60 397.90,321.00 402.90,321.00 402.90,340.00 421.70,340.00 421.70,372.40 435.80,372.40 435.80,380.00 435.80,380.00" fill="none" stroke="#f0904a" stroke-width="0.9"/>
<polyline points="389.00,310.60 397.90,310.60 397.90,318.90 402.90,318.90 402.90,334.40 421.30,334.40 421.30,364.60 454.00,364.60 454.00,372.40 496.50,372.40" fill="none" stroke="#4cb050" stroke-width="0.9"/>
<polyline points="389.00,310.60 397.90,310.60 397.90,318.90 402.90,318.90 402.90,334.40 421.70,334.40 421.70,357.60 436.60,357.60 436.60,364.60 436.60,364.60" fill="none" stroke="#1ea5b8" stroke-width="0.9"/>
<polyline points="389.00,310.60 406.80,310.60 406.80,315.90 417.80,315.90 417.80,326.80 420.70,326.80 420.70,331.80 425.70,331.80 425.70,336.70 430.70,336.70 430.70,343.70 449.60,343.70 449.60,347.90 459.60,347.90 459.60,356.00 486.40,356.00 486.40,360.80 496.50,360.80" fill="none" stroke="#3d4ea3" stroke-width="0.9"/>
<polyline points="389.00,310.60 397.90,310.60 397.90,318.90 402.90,318.90 402.90,340.70 407.80,340.70 407.80,347.70 411.80,347.70 411.80,354.60 417.40,354.60 417.40,360.60 420.70,360.60 420.70,378.40 425.70,378.40 425.70,380.00 425.70,380.00" fill="none" stroke="#222" stroke-width="0.9"/>
<text x="467.90" y="316.00" font-size="6.6" fill="#222" stroke="#222" stroke-width="0.12" text-anchor="start" font-weight="normal" >Vehicle</text>
<text x="467.90" y="321.65" font-size="6.6" fill="#3d4ea3" stroke="#3d4ea3" stroke-width="0.12" text-anchor="start" font-weight="normal" >Elimusertib</text>
<text x="467.90" y="327.30" font-size="6.6" fill="#f0904a" stroke="#f0904a" stroke-width="0.12" text-anchor="start" font-weight="normal" >Ifosfamide</text>
<text x="467.90" y="332.95" font-size="6.6" fill="#1ea5b8" stroke="#1ea5b8" stroke-width="0.12" text-anchor="start" font-weight="normal" >Vincristine</text>
<text x="467.90" y="338.60" font-size="6.6" fill="#4cb050" stroke="#4cb050" stroke-width="0.12" text-anchor="start" font-weight="normal" >Doxorubicin</text>
<text x="467.90" y="344.25" font-size="6.6" fill="#f2e24a" stroke="#f2e24a" stroke-width="0.12" text-anchor="start" font-weight="normal" >Etoposide</text>
<text x="467.90" y="349.90" font-size="6.6" fill="#6a3e9a" stroke="#6a3e9a" stroke-width="0.12" text-anchor="start" font-weight="normal" >Dacarbacine</text>
</svg>
</body></html>
